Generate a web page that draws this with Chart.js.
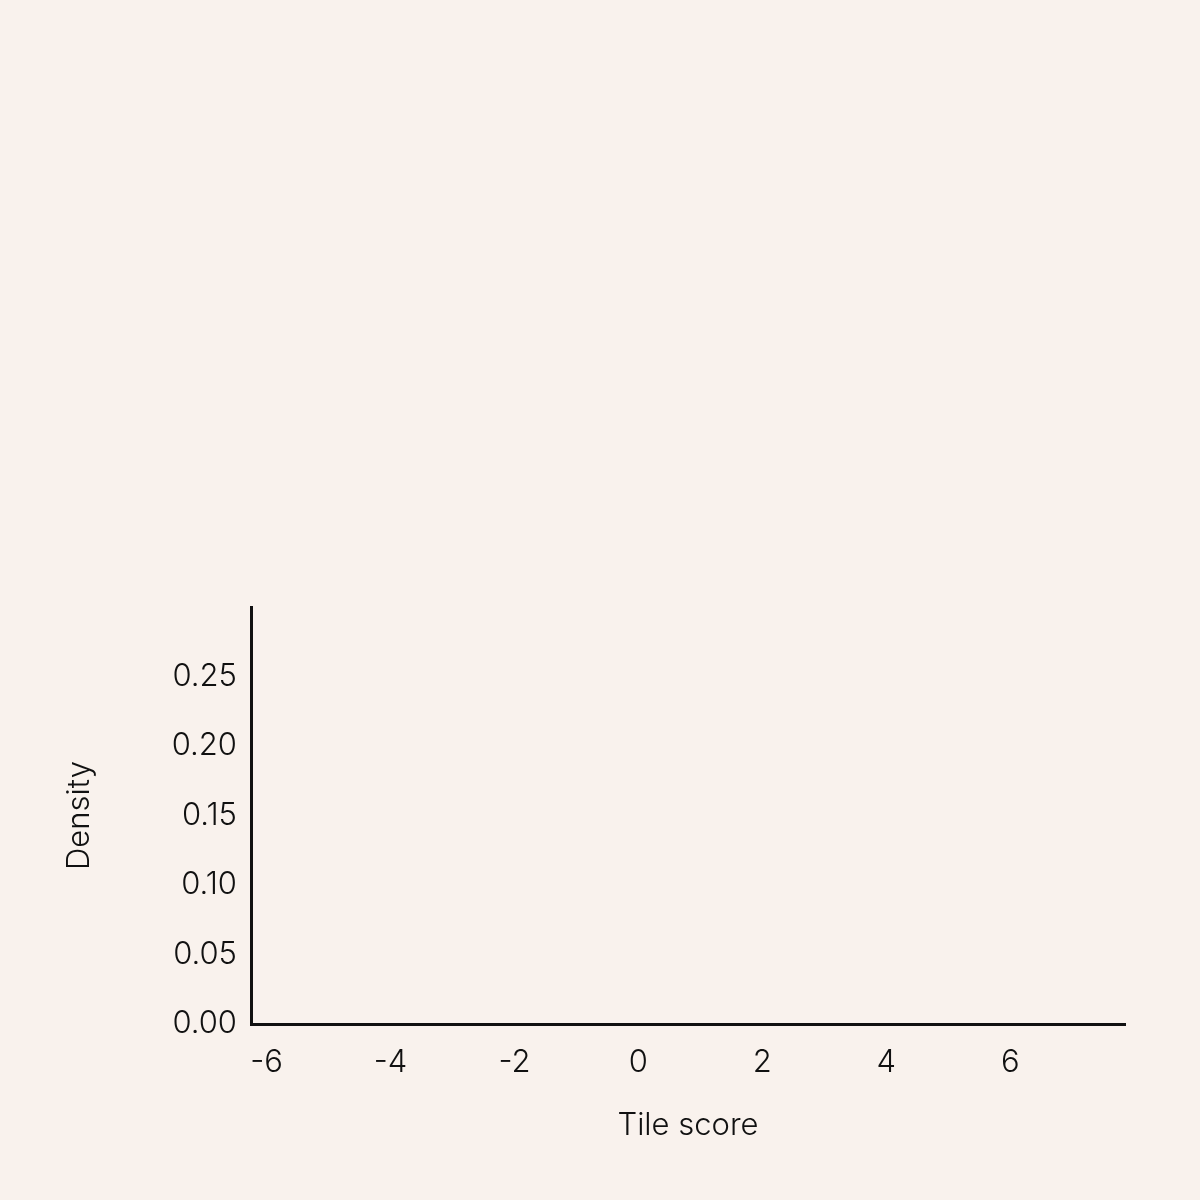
<!DOCTYPE html>
<html>
<head>
<meta charset="utf-8">
<script src="https://cdn.jsdelivr.net/npm/chart.js@4/dist/chart.umd.min.js"></script>
<style>
  html, body { margin: 0; padding: 0; background: #f9f2ed; }
  #wrap { width: 1200px; height: 1200px; }
</style>
</head>
<body>
<div id="wrap"><canvas id="mycanvas" width="1200" height="1200"></canvas></div>
<script>
// empty frame: axes only, no density curve drawn yet
var tileScores = [];
var densities = [];
var xTicks = [-6, -4, -2, 0, 2, 4, 6];
var yTicks = [0.00, 0.05, 0.10, 0.15, 0.20, 0.25];

var points = [];
for (var i in tileScores) {
    points.push({x: tileScores[i], y: densities[i]});
}

var ink = "#111111";
var tickFont = {family: "Inter, 'Liberation Sans', Arial, sans-serif", size: 31, weight: 300};

var chartdata = {
    datasets: [
        {
            label: 'Density',
            data: points,
            borderColor: ink,
            borderWidth: 3,
            pointRadius: 0,
            fill: false
        }
    ]
};

var ctx = document.getElementById("mycanvas");
var densityChart = new Chart(ctx, {
    type: "line",
    data: chartdata,
    options: {
        responsive: false,
        animation: false,
        layout: {padding: {top: 607, right: 75, bottom: 0, left: 0}},
        plugins: {legend: {display: false}, tooltip: {enabled: false}},
        scales: {
            x: {
                type: 'linear',
                min: -6.25,
                max: 7.85,
                afterBuildTicks: function (scale) {
                    scale.ticks = xTicks.map(function (v) { return {value: v}; });
                },
                afterFit: function (scale) { scale.height = 176; },
                grid: {display: false, drawTicks: false},
                border: {display: true, color: ink, width: 3},
                ticks: {color: ink, font: tickFont, padding: 20, maxRotation: 0,
                    callback: function (v) { return String(v); }},
                title: {display: true, text: 'Tile score', color: ink, font: tickFont,
                    padding: {top: 0, bottom: 56}}
            },
            y: {
                min: 0,
                max: 0.30,
                afterBuildTicks: function (scale) {
                    scale.ticks = yTicks.map(function (v) { return {value: v}; });
                },
                afterFit: function (scale) { scale.width = 251; },
                grid: {display: false, drawTicks: false},
                border: {display: true, color: ink, width: 3},
                ticks: {color: ink, font: tickFont, padding: 14,
                    callback: function (v) { return Number(v).toFixed(2); }},
                title: {display: true, text: 'Density', color: ink, font: tickFont,
                    padding: {top: 61, bottom: 0}}
            }
        }
    }
});
</script>
</body>
</html>
